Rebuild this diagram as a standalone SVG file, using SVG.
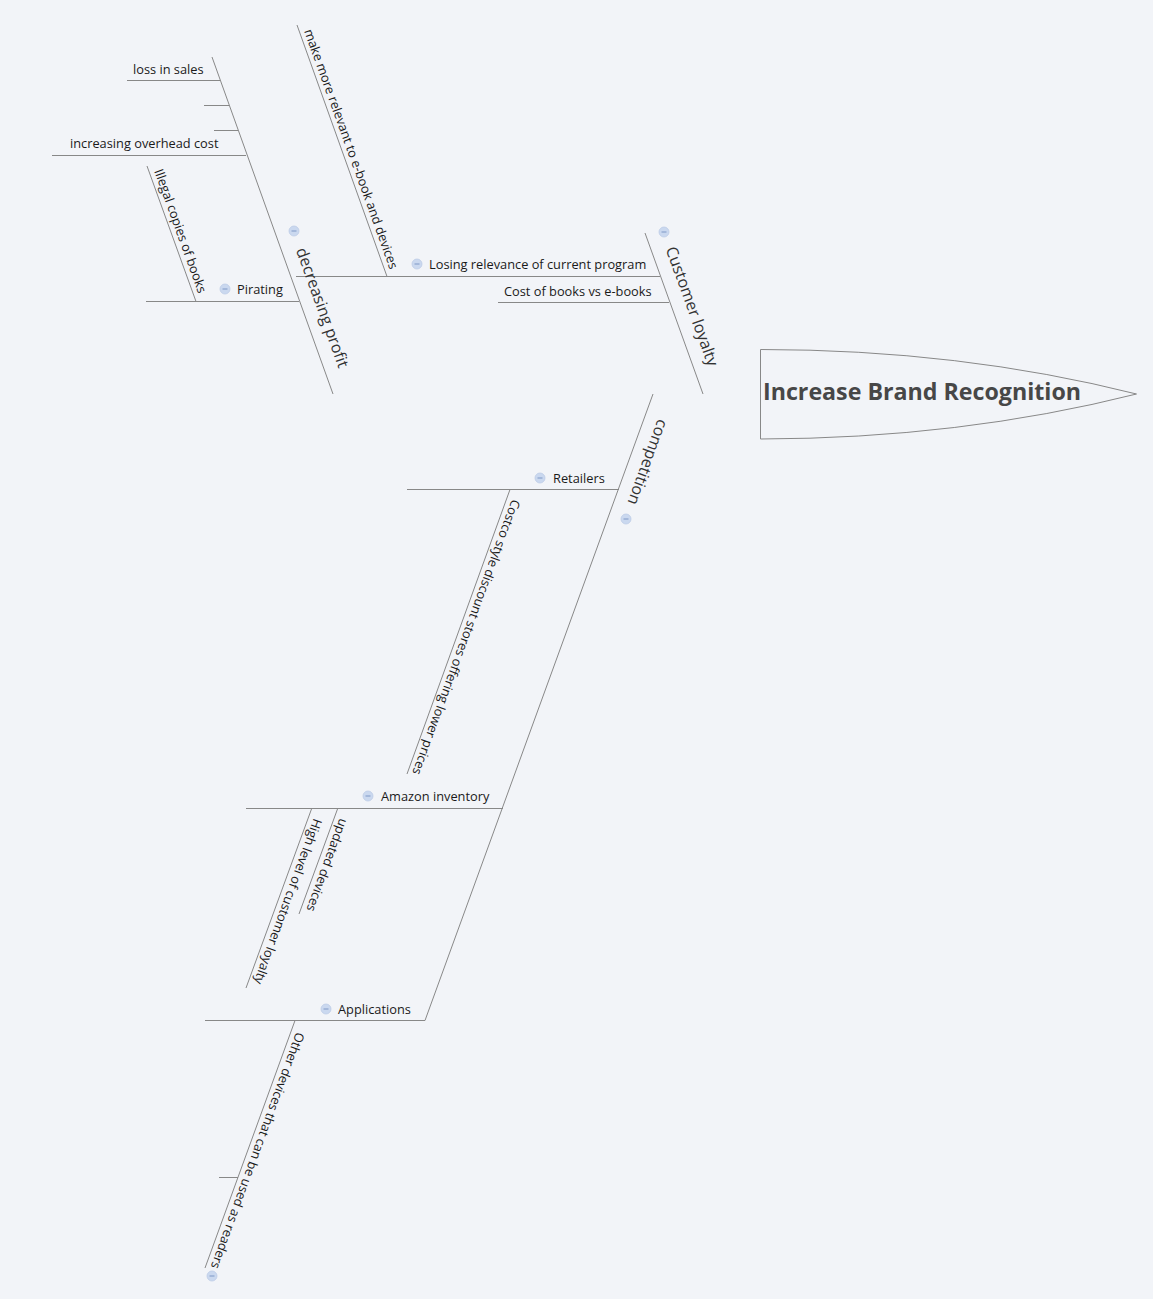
<svg xmlns="http://www.w3.org/2000/svg" xmlns:xlink="http://www.w3.org/1999/xlink" width="1153" height="1299" viewBox="0 0 1153 1299">
<style>
.ln{stroke:#888;stroke-width:1;fill:none}
.t{font-family:"Open Sans","Noto Sans",sans-serif;font-size:12.8px;fill:#1a1a1a}
.m{font-family:"Open Sans","Noto Sans",sans-serif;font-size:16px;fill:#333}
.ti{font-family:"Open Sans","Noto Sans",sans-serif;font-size:24px;font-weight:bold;fill:#474747}
</style>
<defs>
<g id="ic"><circle r="5" fill="#cad8ef" stroke="#bccbe6" stroke-width="0.8"/><path d="M-2.5,0H2.5" stroke="#7f98c6" stroke-width="1"/></g>
</defs>
<rect width="1153" height="1299" fill="#f2f4f8"/>
<g id="connectors" class="ln">
<path d="M212,57 L333,394"/>
<path d="M127,80.5 H220"/>
<path d="M204,105.5 H229"/>
<path d="M214,130.5 H238"/>
<path d="M52,155.5 H246"/>
<path d="M146,301.5 H299"/>
<path d="M147,166 L196,301.5"/>
<path d="M645,233 L703,394"/>
<path d="M296,276.5 H660"/>
<path d="M297,25 L387,276.5"/>
<path d="M498,302.5 H669"/>
<path d="M653,394 L425,1020.5"/>
<path d="M407,489.5 H619"/>
<path d="M510,489.5 L407,774"/>
<path d="M246,808.5 H503"/>
<path d="M337.7,808.5 L299,914"/>
<path d="M311.7,808.5 L246,988"/>
<path d="M205,1020.5 H425"/>
<path d="M295,1020.5 L205,1268"/>
<path d="M219,1177.5 H238"/>
</g>
<g id="head">
<path d="M760.5,349.5 Q960,349.5 1136.5,394 Q960,438.5 760.5,439 Z" fill="#f2f4f8" stroke="#888" stroke-width="1"/>
<text class="ti" x="763" y="400" textLength="318" lengthAdjust="spacingAndGlyphs">Increase Brand Recognition</text>
</g>
<g id="node-decreasing-profit">
<use xlink:href="#ic" transform="translate(294,231)"/>
<text class="m" transform="translate(212,57) rotate(70.2)" x="210" y="-13.5">decreasing profit</text>
</g>
<g id="node-loss-in-sales"><text class="t" x="133" y="74">loss in sales</text></g>
<g id="node-overhead"><text class="t" x="70" y="148">increasing overhead cost</text></g>
<g id="node-pirating">
<use xlink:href="#ic" transform="translate(225,289)"/>
<text class="t" x="237" y="294">Pirating</text>
</g>
<g id="node-illegal"><text class="t" transform="translate(147,166) rotate(70.2)" x="7" y="-5">Illegal copies of books</text></g>
<g id="node-customer-loyalty">
<use xlink:href="#ic" transform="translate(664,232)"/>
<text class="m" transform="translate(645,233) rotate(70.2)" x="22" y="-14">Customer loyalty</text>
</g>
<g id="node-losing-relevance">
<use xlink:href="#ic" transform="translate(417,264)"/>
<text class="t" x="429" y="268.5">Losing relevance of current program</text>
</g>
<g id="node-make-more-relevant"><text class="t" transform="translate(297,25) rotate(70.2)" x="8" y="-4.5">make more relevant to e-book and devices</text></g>
<g id="node-cost-of-books"><text class="t" x="504" y="296">Cost of books vs e-books</text></g>
<g id="node-competition">
<use xlink:href="#ic" transform="translate(626,519)"/>
<text class="m" transform="translate(653,394) rotate(110)" x="21" y="-13">competition</text>
</g>
<g id="node-retailers">
<use xlink:href="#ic" transform="translate(540,478)"/>
<text class="t" x="553" y="482.5">Retailers</text>
</g>
<g id="node-costco"><text class="t" transform="translate(510,489.5) rotate(110)" x="8" y="-5">Costco style discount stores offering lower prices</text></g>
<g id="node-amazon">
<use xlink:href="#ic" transform="translate(368,796)"/>
<text class="t" x="381" y="800.5">Amazon inventory</text>
</g>
<g id="node-updated"><text class="t" transform="translate(337.7,808.5) rotate(110)" x="8" y="-5">updated devices</text></g>
<g id="node-high-level"><text class="t" transform="translate(311.7,808.5) rotate(110)" x="8" y="-5">High level of customer loyalty</text></g>
<g id="node-applications">
<use xlink:href="#ic" transform="translate(326,1009)"/>
<text class="t" x="338" y="1013.5">Applications</text>
</g>
<g id="node-other-devices">
<text class="t" transform="translate(295,1020.5) rotate(110)" x="10" y="-5">Other devices that can be used as readers</text>
<use xlink:href="#ic" transform="translate(212,1276)"/>
</g>
</svg>
